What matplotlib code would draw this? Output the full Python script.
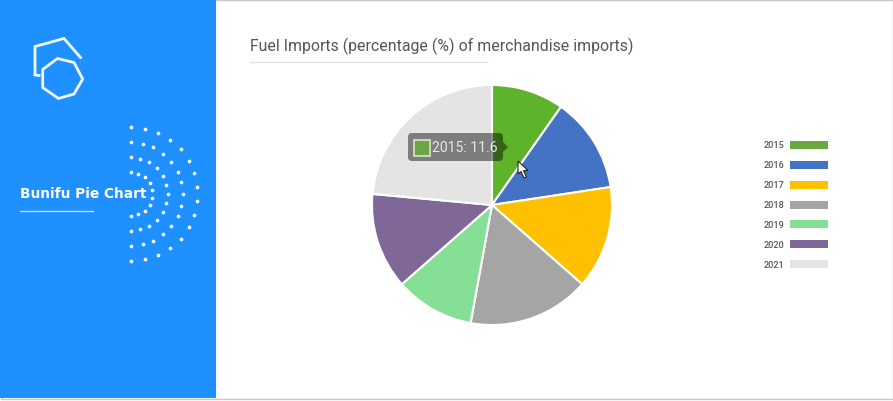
import numpy as np
import matplotlib
matplotlib.use("Agg")
import matplotlib.pyplot as plt
from matplotlib.patches import Rectangle, FancyBboxPatch, Polygon

years = ["2015", "2016", "2017", "2018", "2019", "2020", "2021"]
values = [11.6, 15.3, 16.5, 19.5, 12.7, 15.4, 28.0]
slice_colors = ["#5FB32A", "#4472C4", "#FFC000", "#A5A5A5", "#85E096", "#7F6897", "#E4E4E4"]
legend_colors = ["#6AA842", "#4472C4", "#FFC000", "#A5A5A5", "#85E096", "#7F6897", "#E4E4E4"]
title = "Fuel Imports (percentage (%) of merchandise imports)"
panel_title = "Bunifu Pie Chart"
tooltip_text = "2015: 11.6"

W, H = 893, 402
fig = plt.figure(figsize=(W / 100, H / 100), dpi=100, facecolor="white")

# pixel-coordinate canvas for the decoration
bg = fig.add_axes([0, 0, 1, 1])
bg.set_xlim(0, W)
bg.set_ylim(H, 0)
bg.axis("off")
bg.add_patch(Rectangle((0.5, 0.5), W - 1, 399.5, fc="white", ec="#c8c8c8", lw=1))
bg.add_patch(Rectangle((0, 0.5), 215.5, 398.5, fc="#1E90FF", ec="none"))

# icon
bg.plot([39, 35, 35, 64, 80.5], [76.5, 76, 47.5, 39.5, 58.5], color="white", lw=2,
        solid_joinstyle="miter", alpha=.95)
bg.add_patch(Polygon([(57.5, 59.5), (74, 63.5), (82.7, 80), (74, 95), (58.5, 99.5),
                      (42.7, 88.5), (42.7, 70.5)], closed=True, fc="none", ec="white", lw=2, alpha=.95))

# dot arcs
for r, n in [(66.7, 16), (51.7, 15), (36.7, 13), (21.7, 10)]:
    a = np.linspace(-np.pi / 2, np.pi / 2, n)
    bg.scatter(131 + r * np.cos(a), 195 + r * np.sin(a), s=7, color="white", lw=0, zorder=3)

bg.text(20, 194, panel_title, color="white", fontsize=9.9, family="DejaVu Sans", weight="bold",
        va="center", ha="left", zorder=4)
bg.plot([20, 93], [212, 212], color="#BBDDFF", lw=1)

# title
bg.text(250, 46.5, title, color="#555555", fontsize=11.4, family="Roboto", va="center", ha="left")
bg.plot([250, 487], [63, 63], color="#E2E2E2", lw=1)

# pie
ax = fig.add_axes([372 / W, 1 - 326 / H, 240 / W, 240 / H])
ax.pie(values, colors=slice_colors, startangle=90, counterclock=False,
       wedgeprops=dict(edgecolor="white", linewidth=1.5))
ax.set_xlim(-1, 1)
ax.set_ylim(-1, 1)
for p in ax.patches:
    p.set_clip_on(False)

# legend
fg = fig.add_axes([0, 0, 1, 1], facecolor="none")
fg.set_xlim(0, W)
fg.set_ylim(H, 0)
fg.axis("off")
for i, (y, c) in enumerate(zip(years, legend_colors)):
    yy = 146 + i * 19.85
    fg.text(784, yy, y, fontsize=6.6, family="Roboto", weight="medium", color="#555555", ha="right", va="center")
    fg.add_patch(Rectangle((789.5, yy - 4), 38, 8, fc=c, ec="none"))

# tooltip
fg.add_patch(FancyBboxPatch((411, 137), 89, 22, boxstyle="round,pad=3,rounding_size=4",
                            fc="black", ec="none", alpha=.45))
fg.add_patch(Polygon([(503, 143), (508, 148), (503, 153)], closed=True, fc="black", ec="none", alpha=.45))
fg.add_patch(Rectangle((413.5, 140.5), 16, 16, fc="#6AA842", ec="#DDE8D8", lw=1.2, alpha=.95))
fg.text(432, 148.5, tooltip_text, color="#E8E8E8", fontsize=10.1, family="Roboto", va="center", ha="left")

# cursor
fg.add_patch(Polygon([(518, 162), (518, 175), (521, 172.5), (524, 179), (526.5, 178),
                      (523.5, 171.5), (528, 171.5)], closed=True, fc="white", ec="#222222", lw=.8))

fig.savefig("out.png", dpi=100)
